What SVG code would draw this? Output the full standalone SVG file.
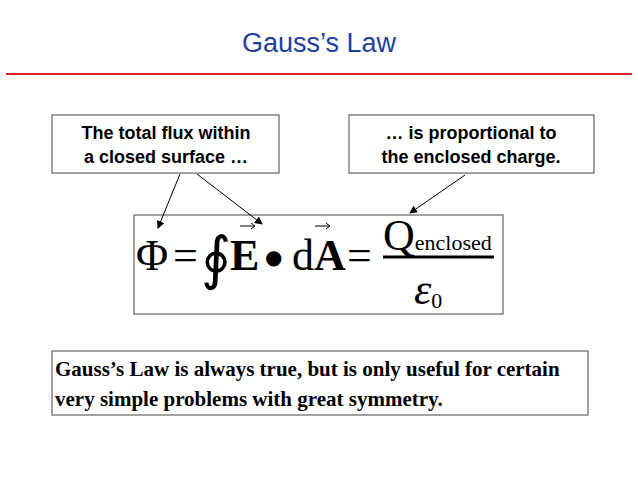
<svg xmlns="http://www.w3.org/2000/svg" width="638" height="478" viewBox="0 0 638 478">
<style>
.box{fill:#fff;stroke:#444;stroke-width:1}
.lbl{font-family:"Liberation Sans",Arial,sans-serif;font-weight:bold;font-size:18px;text-anchor:middle}
.eq{font-family:"Liberation Serif","Times New Roman",serif;font-size:44px}
.conn line{stroke:#000;stroke-width:1;marker-end:url(#ah)}
</style>
<defs><marker id="ah" markerWidth="8" markerHeight="8" refX="7" refY="4" orient="auto" markerUnits="userSpaceOnUse"><path d="M0,0 L8,4 L0,8 z" fill="#000"/></marker></defs>
<rect width="638" height="478" fill="#fff"/>
<g id="title"><text x="319" y="52" font-family="Liberation Sans,Arial,sans-serif" font-size="27" fill="#1f3fa0" text-anchor="middle">Gauss’s Law</text>
<line x1="6" y1="74" x2="632" y2="74" stroke="#e0202c" stroke-width="2"/></g>
<g id="n1"><rect class="box" x="52" y="115" width="227" height="58"/>
<text class="lbl" x="166" y="139">The total flux within</text><text class="lbl" x="166" y="163">a closed surface …</text></g>
<g id="n2"><rect class="box" x="349" y="115" width="245" height="58"/>
<text class="lbl" x="471" y="139">… is proportional to</text><text class="lbl" x="471" y="163">the enclosed charge.</text></g>
<g id="eqn"><rect class="box" x="134" y="215" width="369" height="99"/>
<text class="eq" x="136" y="270">Φ</text>
<text class="eq" x="173" y="270">=</text>
<text x="201" y="278" font-family="DejaVu Serif,serif" font-size="58">∮</text>
<text class="eq" x="230" y="270" font-weight="bold">E</text>
<text x="265" y="264" font-family="DejaVu Sans,sans-serif" font-size="20">●</text>
<text class="eq" x="292" y="270">d<tspan font-weight="bold">A</tspan></text>
<text class="eq" x="347" y="270">=</text>
<path d="M240,226 H254 M251,223 L255,226 L251,229 M315,226 H329 M326,223 L330,226 L326,229" stroke="#000" fill="none" stroke-width="1"/>
<text class="eq" x="383" y="250">Q<tspan font-size="22">enclosed</tspan></text>
<line x1="383" y1="257" x2="494" y2="257" stroke="#000" stroke-width="3"/>
<text class="eq" x="414" y="304" font-style="italic">ε<tspan font-size="22" font-style="normal" dy="4">0</tspan></text></g>
<g id="n3"><rect class="box" x="52" y="351" width="536" height="64"/>
<text x="55" y="376" font-family="Liberation Serif,Times New Roman,serif" font-weight="bold" font-size="21">Gauss’s Law is always true, but is only useful for certain</text>
<text x="55" y="406" font-family="Liberation Serif,Times New Roman,serif" font-weight="bold" font-size="21"> very simple problems with great symmetry.</text></g>
<g class="conn"><line x1="180" y1="174" x2="158" y2="228"/><line x1="197" y1="174" x2="262" y2="224"/><line x1="465" y1="175" x2="410" y2="213"/></g>
</svg>
